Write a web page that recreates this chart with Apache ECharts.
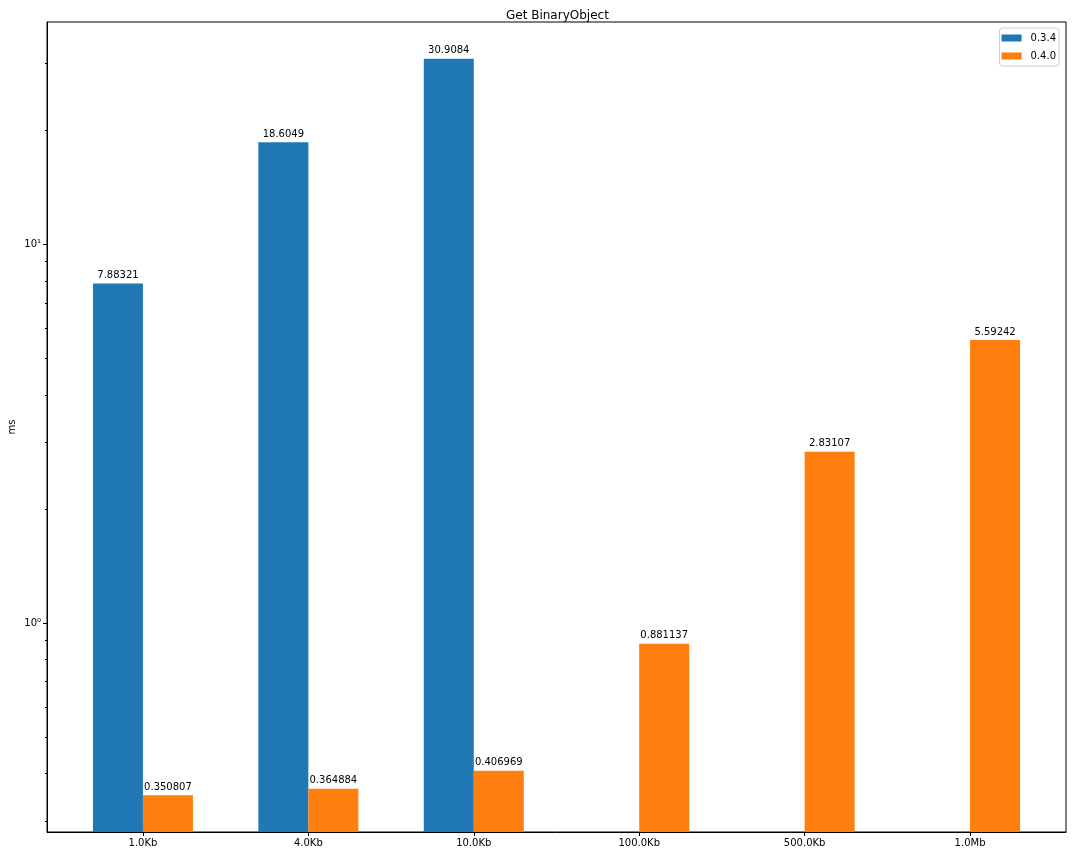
<!DOCTYPE html>
<html>
<head>
<meta charset="utf-8">
<script src="https://cdn.jsdelivr.net/npm/echarts@6/dist/echarts.min.js"></script>
<style>
  html, body { margin: 0; padding: 0; background: #fff; }
  #chart { width: 1072px; height: 856px; }
</style>
</head>
<body>
<div id="chart"></div>
<script>
const categories = ['1.0Kb', '4.0Kb', '10.0Kb', '100.0Kb', '500.0Kb', '1.0Mb']
const v034 = [7.88321, 18.6049, 30.9084]
const v040 = [0.350807, 0.364884, 0.406969, 0.881137, 2.83107, 5.59242]
const majorTicks = [1, 10]
const minorTicks = [0.3, 0.4, 0.5, 0.6, 0.7, 0.8, 0.9, 2, 3, 4, 5, 6, 7, 8, 9, 20, 30]

// matplotlib-like 5% margins in log space
const yMin = 0.28041
const yMax = 38.67
const font = 'DejaVu Sans'

function toPoints(arr) {
  return arr.map((v, i) => [i, v])
}

const chart = echarts.init(document.getElementById('chart'))

const supers = { '-1': '10⁻¹', '0': '10⁰', '1': '10¹', '2': '10²' }

chart.setOption({
  animation: false,
  textStyle: { fontFamily: font },
  title: {
    text: 'Get BinaryObject',
    left: 501,
    top: 5,
    textStyle: { fontSize: 12, fontWeight: 'normal', color: '#000', fontFamily: font }
  },
  legend: {
    right: 13,
    top: 28,
    orient: 'vertical',
    icon: 'rect',
    itemWidth: 20,
    itemHeight: 7,
    itemGap: 8,
    padding: [5, 3, 5, 2],
    itemStyle: { borderWidth: 0 },
    borderColor: '#ccc',
    borderWidth: 1,
    borderRadius: 3,
    textStyle: { fontSize: 10, color: '#000', fontFamily: font, padding: [0, 0, 0, 4] },
    data: ['0.3.4', '0.4.0']
  },
  grid: {
    left: 47,
    right: 6,
    top: 22,
    bottom: 24,
    show: true,
    borderColor: '#000',
    borderWidth: 1,
    containLabel: false,
    outerBoundsMode: 'none'
  },
  xAxis: {
    type: 'value',
    min: -0.58,
    max: 5.58,
    splitLine: { show: false },
    axisLine: { show: true, onZero: false, lineStyle: { color: '#000' } },
    axisTick: { show: true, length: 4, customValues: [0, 1, 2, 3, 4, 5], lineStyle: { color: '#000' } },
    axisLabel: {
      customValues: [0, 1, 2, 3, 4, 5],
      fontSize: 10,
      color: '#000',
      fontFamily: font,
      margin: 6,
      formatter: v => categories[Math.round(v)]
    }
  },
  yAxis: [
    {
      type: 'log',
      logBase: 10,
      min: yMin,
      max: yMax,
      startValue: yMin,
      name: 'ms',
      nameLocation: 'middle',
      nameGap: 30,
      nameMoveOverlap: false,
      nameTextStyle: { fontSize: 10, color: '#000', fontFamily: font },
      splitLine: { show: false },
      axisLine: { show: true, onZero: false, lineStyle: { color: '#000' } },
      axisTick: { show: true, length: 4, customValues: majorTicks, lineStyle: { color: '#000' } },
      axisLabel: {
        customValues: majorTicks,
        fontSize: 10,
        color: '#000',
        fontFamily: font,
        margin: 6,
        formatter: v => supers[String(Math.round(Math.log10(v)))]
      }
    },
    {
      type: 'log',
      logBase: 10,
      min: yMin,
      max: yMax,
      position: 'left',
      offset: 0,
      splitLine: { show: false },
      axisLine: { show: false, onZero: false },
      axisTick: { show: true, length: 2, customValues: minorTicks, lineStyle: { color: '#000' } },
      axisLabel: { show: false }
    }
  ],
  series: [
    {
      name: '0.3.4',
      type: 'bar',
      data: toPoints(v034),
      barWidth: 50,
      barGap: '0%',
      itemStyle: { color: '#1f77b4', borderWidth: 0 },
      label: {
        show: true,
        position: 'top',
        distance: 3,
        fontSize: 10,
        color: '#000',
        fontFamily: font,
        formatter: p => p.value[1]
      }
    },
    {
      name: '0.4.0',
      type: 'bar',
      data: toPoints(v040),
      barWidth: 50,
      barGap: '0%',
      itemStyle: { color: '#ff7f0e', borderWidth: 0 },
      label: {
        show: true,
        position: 'top',
        distance: 3,
        fontSize: 10,
        color: '#000',
        fontFamily: font,
        formatter: p => p.value[1]
      }
    }
  ]
})
</script>
</body>
</html>
